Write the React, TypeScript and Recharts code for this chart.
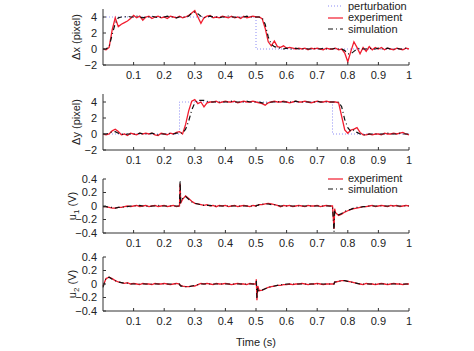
import React from "react";
import { LineChart, Line, XAxis, YAxis, Legend, Label } from "recharts";

const FONT = "'Liberation Sans Narrow', 'Liberation Sans', Arial, sans-serif";
const AXIS = "#333333";
const TEXT = "#222222";
const RED = "#f21c2e";
const BLACK = "#111111";
const BLUE = "#8c8cf5";
const SIM_DASH = "5 3 1 3";
const PERT_DASH = "1 2";

// time grid for the two position panels (s)
const timePos = [
  0, 0.01, 0.02, 0.03, 0.04, 0.05, 0.06, 0.07, 0.08, 0.09,
  0.1, 0.11, 0.12, 0.13, 0.14, 0.15, 0.16, 0.17, 0.18, 0.19,
  0.2, 0.21, 0.22, 0.23, 0.24, 0.25, 0.26, 0.27, 0.28, 0.29,
  0.3, 0.31, 0.32, 0.33, 0.34, 0.35, 0.36, 0.37, 0.38, 0.39,
  0.4, 0.41, 0.42, 0.43, 0.44, 0.45, 0.46, 0.47, 0.48, 0.49,
  0.5, 0.51, 0.52, 0.53, 0.54, 0.55, 0.56, 0.57, 0.58, 0.59,
  0.6, 0.61, 0.62, 0.63, 0.64, 0.65, 0.66, 0.67, 0.68, 0.69,
  0.7, 0.71, 0.72, 0.73, 0.74, 0.75, 0.76, 0.77, 0.78, 0.79,
  0.8, 0.81, 0.82, 0.83, 0.84, 0.85, 0.86, 0.87, 0.88, 0.89,
  0.9, 0.91, 0.92, 0.93, 0.94, 0.95, 0.96, 0.97, 0.98, 0.99, 1,
];

// Δx (pixel)
const dxPerturbation = [
  4, 4, 4, 4, 4, 4, 4, 4, 4, 4,
  4, 4, 4, 4, 4, 4, 4, 4, 4, 4,
  4, 4, 4, 4, 4, 4, 4, 4, 4, 4,
  4, 4, 4, 4, 4, 4, 4, 4, 4, 4,
  4, 4, 4, 4, 4, 4, 4, 4, 4, 4,
  0, 0, 0, 0, 0, 0, 0, 0, 0, 0,
  0, 0, 0, 0, 0, 0, 0, 0, 0, 0,
  0, 0, 0, 0, 0, 0, 0, 0, 0, 0,
  0, 0, 0, 0, 0, 0, 0, 0, 0, 0,
  0, 0, 0, 0, 0, 0, 0, 0, 0, 0, 0,
];
const dxExperiment = [
  0.0, -0.1, 0.2, 2.4, 3.9, 2.8, 3.1, 3.3, 3.5, 3.8,
  4.2, 3.9, 4.1, 3.6, 4.0, 4.1, 3.8, 4.0, 4.1, 3.9,
  4.0, 3.8, 4.1, 4.0, 3.9, 4.1, 3.9, 4.0, 4.2, 4.5,
  4.8, 4.0, 3.2, 3.9, 4.1, 4.2, 3.9, 4.0, 3.9, 4.1,
  4.0, 3.9, 4.1, 3.9, 4.0, 3.8, 4.1, 3.9, 4.0, 4.1,
  4.0, 4.0, 3.8, 2.6, 0.9, 0.4, 1.0, 0.3, 0.2, 0.4,
  0.1, 0.2, 0.1, 0.0, 0.1, 0.0, 0.1, -0.1, 0.1, 0.0,
  0.1, 0.0, -0.1, 0.1, 0.0, 0.0, 0.1, -0.1, 0.0, -0.5,
  -1.6, -0.3, 0.9, 0.2, -0.6, 0.2, -0.3, 0.3, -0.1, 0.2,
  0.0, 0.2, -0.1, 0.1, 0.0, -0.1, 0.1, 0.0, -0.1, 0.1, 0.0,
];
const dxSimulation = [
  0.0, 0.0, 0.3, 1.8, 3.2, 3.9, 4.0, 4.0, 4.1, 4.0,
  4.0, 4.1, 4.0, 3.9, 4.0, 4.0, 4.1, 4.0, 3.9, 4.0,
  4.0, 4.1, 4.0, 4.0, 3.9, 4.0, 4.0, 4.0, 4.1, 4.5,
  4.6, 4.4, 4.1, 3.9, 4.0, 4.1, 4.0, 4.0, 3.9, 4.0,
  4.0, 4.1, 4.0, 4.0, 3.9, 4.0, 4.0, 4.1, 4.0, 4.0,
  4.0, 4.0, 3.9, 3.1, 1.5, 0.6, 0.3, 0.2, 0.1, 0.0,
  0.1, 0.0, 0.0, 0.1, 0.0, 0.0, 0.1, 0.0, 0.0, 0.1,
  0.0, 0.0, 0.1, 0.0, 0.0, 0.0, 0.1, 0.0, 0.0, -0.2,
  -0.6, -0.6, -0.3, 0.0, 0.1, 0.0, 0.0, 0.1, 0.0, 0.0,
  0.1, 0.0, 0.0, 0.1, 0.0, 0.0, 0.1, 0.0, 0.0, 0.1, 0.0,
];

// Δy (pixel)
const dyPerturbation = [
  0, 0, 0, 0, 0, 0, 0, 0, 0, 0,
  0, 0, 0, 0, 0, 0, 0, 0, 0, 0,
  0, 0, 0, 0, 0, 4, 4, 4, 4, 4,
  4, 4, 4, 4, 4, 4, 4, 4, 4, 4,
  4, 4, 4, 4, 4, 4, 4, 4, 4, 4,
  4, 4, 4, 4, 4, 4, 4, 4, 4, 4,
  4, 4, 4, 4, 4, 4, 4, 4, 4, 4,
  4, 4, 4, 4, 4, 0, 0, 0, 0, 0,
  0, 0, 0, 0, 0, 0, 0, 0, 0, 0,
  0, 0, 0, 0, 0, 0, 0, 0, 0, 0, 0,
];
const dyExperiment = [
  0.0, -0.1, 0.0, 0.4, 0.6, 0.3, -0.1, 0.0, -0.2, 0.1,
  0.0, -0.1, 0.1, 0.0, 0.1, 0.0, 0.1, -0.1, -0.2, 0.1,
  0.0, -0.1, 0.1, 0.0, 0.2, 0.3, 0.0, 1.2, 2.9, 4.1,
  4.3, 3.8, 4.0, 3.4, 3.9, 4.0, 4.0, 4.1, 3.9, 4.0,
  4.1, 4.0, 4.0, 4.1, 3.9, 4.0, 4.1, 4.0, 4.0, 4.1,
  4.0, 3.9, 3.8, 3.6, 3.9, 4.0, 4.1, 4.0, 4.0, 4.1,
  4.0, 3.9, 4.0, 4.1, 4.0, 4.0, 4.1, 4.0, 3.9, 4.0,
  4.1, 4.0, 4.0, 4.1, 4.0, 4.0, 4.0, 3.9, 2.2, 0.5,
  0.1, 0.5, 0.6, 0.8, 0.2, -0.1, -0.1, 0.0, -0.1, 0.0,
  0.0, -0.1, 0.1, 0.0, 0.0, 0.1, 0.0, 0.1, 0.2, 0.0, -0.1,
];
const dySimulation = [
  0.0, 0.0, 0.1, 0.3, 0.3, 0.1, 0.0, -0.1, 0.0, 0.0,
  0.0, 0.0, 0.1, 0.0, 0.0, 0.0, 0.1, 0.0, -0.1, 0.0,
  0.0, 0.0, 0.1, 0.0, 0.1, 0.1, 0.1, 0.6, 1.6, 3.0,
  3.9, 4.2, 4.2, 4.2, 4.1, 4.0, 4.0, 4.0, 4.0, 4.0,
  4.0, 4.0, 4.1, 4.0, 4.0, 4.0, 4.0, 4.1, 4.0, 4.0,
  4.0, 4.0, 3.9, 3.8, 3.9, 4.0, 4.0, 4.0, 4.1, 4.0,
  4.0, 4.0, 4.0, 4.1, 4.0, 4.0, 4.0, 4.0, 4.0, 4.0,
  4.1, 4.0, 4.0, 4.0, 4.0, 4.0, 4.0, 4.0, 3.4, 1.8,
  0.8, 0.3, 0.5, 0.2, 0.0, -0.1, -0.1, 0.0, 0.0, 0.0,
  0.0, 0.0, 0.0, 0.1, 0.0, 0.0, 0.0, 0.1, 0.0, 0.0, 0.0,
];

// time grid for the two voltage panels, denser around the spikes (s)
const timeVolt = [
  0, 0.01, 0.02, 0.03, 0.04, 0.05, 0.06, 0.07, 0.08, 0.09,
  0.1, 0.11, 0.12, 0.13, 0.14, 0.15, 0.16, 0.17, 0.18, 0.19,
  0.2, 0.21, 0.22, 0.23, 0.24, 0.25, 0.252, 0.254, 0.26, 0.27, 0.28, 0.29,
  0.3, 0.31, 0.32, 0.33, 0.34, 0.35, 0.36, 0.37, 0.38, 0.39,
  0.4, 0.41, 0.42, 0.43, 0.44, 0.45, 0.46, 0.47, 0.48, 0.49,
  0.5, 0.501, 0.503, 0.506, 0.51, 0.52, 0.53, 0.54, 0.55, 0.56, 0.57, 0.58, 0.59,
  0.6, 0.61, 0.62, 0.63, 0.64, 0.65, 0.66, 0.67, 0.68, 0.69,
  0.7, 0.71, 0.72, 0.73, 0.74, 0.75, 0.755, 0.757, 0.76, 0.77, 0.78, 0.79,
  0.8, 0.81, 0.82, 0.83, 0.84, 0.85, 0.86, 0.87, 0.88, 0.89,
  0.9, 0.91, 0.92, 0.93, 0.94, 0.95, 0.96, 0.97, 0.98, 0.99, 1,
];

// u1 (V)
const u1Experiment = [
  -0.01, -0.01, -0.02, -0.03, -0.03, -0.02, -0.02, -0.01, 0.0, -0.01,
  0.0, 0.01, -0.01, 0.0, 0.01, -0.01, 0.0, 0.01, -0.01, 0.0,
  0.01, -0.01, 0.0, 0.01, -0.01, 0.0, 0.33, 0.04, 0.1, 0.15, 0.11, 0.07,
  0.04, 0.03, 0.02, 0.01, 0.02, 0.0, 0.01, -0.01, 0.01, 0.0,
  0.01, -0.01, 0.0, 0.01, -0.01, 0.0, 0.01, 0.0, -0.01, 0.01,
  0.0, 0.0, 0.01, 0.01, 0.02, 0.02, 0.03, 0.04, 0.03, 0.02, 0.01, -0.01, 0.01,
  0.0, 0.01, -0.01, 0.0, 0.01, 0.0, -0.01, 0.01, 0.0, 0.0,
  0.01, -0.01, 0.0, 0.01, 0.0, 0.0, -0.34, -0.04, -0.1, -0.14, -0.12, -0.09,
  -0.07, -0.05, -0.04, -0.03, -0.02, -0.01, -0.01, 0.0, 0.01, -0.01,
  0.0, 0.01, 0.0, -0.01, 0.01, 0.0, 0.01, -0.01, 0.0, 0.01, 0.0,
];
const u1Simulation = [
  -0.01, -0.01, -0.02, -0.02, -0.03, -0.02, -0.02, -0.01, -0.01, 0.0,
  0.0, 0.0, 0.01, 0.0, 0.0, -0.01, 0.0, 0.0, 0.01, 0.0,
  0.0, 0.0, 0.0, 0.0, 0.0, 0.0, 0.38, 0.06, 0.11, 0.14, 0.1, 0.06,
  0.04, 0.03, 0.02, 0.01, 0.01, 0.01, 0.0, 0.0, 0.0, 0.0,
  0.0, 0.0, 0.0, 0.0, 0.0, 0.0, 0.0, 0.0, 0.0, 0.0,
  0.0, 0.0, 0.01, 0.01, 0.02, 0.03, 0.03, 0.03, 0.02, 0.02, 0.01, 0.0, 0.0,
  0.0, 0.0, 0.0, 0.0, 0.0, 0.0, 0.0, 0.0, 0.0, 0.0,
  0.0, 0.0, 0.0, 0.0, 0.0, 0.0, -0.38, -0.06, -0.11, -0.13, -0.11, -0.08,
  -0.06, -0.05, -0.03, -0.02, -0.02, -0.01, -0.01, 0.0, 0.0, 0.0,
  0.0, 0.0, 0.0, 0.0, 0.0, 0.0, 0.0, 0.0, 0.0, 0.0, 0.0,
];

// u2 (V)
const u2Experiment = [
  -0.03, 0.08, 0.1, 0.08, 0.05, 0.03, 0.02, 0.01, 0.02, 0.0,
  0.01, 0.0, -0.01, 0.01, 0.0, 0.0, -0.01, 0.01, 0.0, 0.0,
  0.01, 0.0, -0.01, 0.0, 0.01, 0.0, -0.02, -0.02, -0.03, -0.04, -0.04, -0.03,
  -0.03, -0.01, 0.01, 0.0, 0.01, 0.0, -0.01, 0.01, 0.0, 0.0,
  0.01, 0.0, -0.01, 0.0, 0.01, 0.0, 0.0, -0.01, 0.01, 0.0,
  0.0, 0.07, -0.24, -0.03, -0.1, -0.09, -0.07, -0.05, -0.04, -0.03, -0.02, -0.02, -0.01,
  -0.01, 0.0, -0.01, 0.0, 0.0, 0.01, 0.0, -0.01, 0.0, 0.0,
  0.01, 0.0, -0.01, 0.0, 0.0, 0.0, 0.0, 0.03, 0.03, 0.04, 0.05, 0.05,
  0.04, 0.03, 0.02, 0.01, 0.0, -0.01, 0.01, 0.0, 0.0, -0.01,
  0.0, 0.01, 0.0, -0.01, 0.0, 0.01, 0.0, 0.0, -0.01, 0.0, 0.0,
];
const u2Simulation = [
  -0.05, 0.09, 0.1, 0.07, 0.05, 0.03, 0.02, 0.01, 0.01, 0.0,
  0.0, 0.0, 0.0, 0.0, 0.0, 0.0, 0.0, 0.0, 0.0, 0.0,
  0.0, 0.0, 0.0, 0.0, 0.0, 0.0, -0.02, -0.03, -0.03, -0.04, -0.04, -0.03,
  -0.02, -0.01, 0.0, 0.0, 0.0, 0.0, 0.0, 0.0, 0.0, 0.0,
  0.0, 0.0, 0.0, 0.0, 0.0, 0.0, 0.0, 0.0, 0.0, 0.0,
  0.0, 0.06, -0.22, -0.05, -0.1, -0.09, -0.07, -0.05, -0.04, -0.03, -0.02, -0.01, -0.01,
  0.0, 0.0, 0.0, 0.0, 0.0, 0.0, 0.0, 0.0, 0.0, 0.0,
  0.0, 0.0, 0.0, 0.0, 0.0, 0.0, 0.0, 0.03, 0.03, 0.04, 0.05, 0.05,
  0.04, 0.03, 0.02, 0.01, 0.0, 0.0, 0.0, 0.0, 0.0, 0.0,
  0.0, 0.0, 0.0, 0.0, 0.0, 0.0, 0.0, 0.0, 0.0, 0.0, 0.0,
];

const timeTicks = [0.1, 0.2, 0.3, 0.4, 0.5, 0.6, 0.7, 0.8, 0.9, 1];
const pixelTicks = [-2, 0, 2, 4];
const voltTicks = [-0.4, -0.2, 0, 0.2, 0.4];

type Row = { t: number; pert?: number; exp: number; sim: number };

function buildRows(time: number[], exp: number[], sim: number[], pert?: number[]): Row[] {
  return time.map((t, i) => ({ t, exp: exp[i], sim: sim[i], pert: pert ? pert[i] : undefined }));
}

function fmtTick(v: number) {
  const s = Number.isInteger(v) ? String(v) : String(+v.toFixed(1));
  return s.replace("-", "\u2212");
}

type Item = { name: string; color: string; dash?: string };

const ITEMS_ALL: Item[] = [
  { name: "perturbation", color: BLUE, dash: PERT_DASH },
  { name: "experiment", color: RED },
  { name: "simulation", color: BLACK, dash: SIM_DASH },
];

function LegendBox({ items, rowH }: { items: Item[]; rowH: number }) {
  return (
    <div style={{ fontFamily: FONT, fontSize: 11, color: TEXT }}>
      {items.map((it) => (
        <div
          key={it.name}
          style={{ display: "flex", alignItems: "center", height: rowH, whiteSpace: "nowrap" }}
        >
          <svg width={15} height={4} style={{ marginRight: 5, overflow: "visible" }}>
            <line x1={0} y1={2} x2={15} y2={2} stroke={it.color} strokeWidth={1.2} strokeDasharray={it.dash} />
          </svg>
          <span style={{ lineHeight: 1 }}>{it.name}</span>
        </div>
      ))}
    </div>
  );
}

function YTitle({ cx, cy, main, sub, unit }: { cx: number; cy: number; main: string; sub?: string; unit: string }) {
  return (
    <text
      x={cx}
      y={cy}
      transform={`rotate(-90, ${cx}, ${cy})`}
      textAnchor="middle"
      dy="0.35em"
      fill={TEXT}
      fontFamily={FONT}
      fontSize={11}
    >
      {main}
      {sub ? (
        <>
          <tspan dy={3} fontSize={8}>{sub}</tspan>
          <tspan dy={-3}>{unit}</tspan>
        </>
      ) : (
        unit
      )}
    </text>
  );
}

type PanelProps = {
  top: number;
  plotH: number;
  xBottom: number;
  data: Row[];
  domain: [number, number];
  ticks: number[];
  withPert: boolean;
  title: { cx: number; main: string; sub?: string; unit: string };
  legend?: { items: Item[]; rowH: number; top: number };
  xTitle?: string;
};

function Panel({ top, plotH, xBottom, data, domain, ticks, withPert, title, legend, xTitle }: PanelProps) {
  const height = 8 + plotH + xBottom;
  const tickStyle = { fill: TEXT, fontSize: 11, fontFamily: FONT };
  return (
    <div style={{ position: "absolute", left: 0, top }}>
      <LineChart width={474} height={height} data={data} margin={{ top: 8, right: 65, bottom: 0, left: 0 }}>
        <XAxis
          dataKey="t"
          type="number"
          domain={[0, 1]}
          ticks={timeTicks}
          tickFormatter={fmtTick}
          interval={0}
          height={xBottom}
          tickSize={-3}
          tickMargin={9}
          stroke={AXIS}
          tick={tickStyle}
        >
          {xTitle ? (
            <Label
              value={xTitle}
              position="insideBottom"
              offset={5}
              style={{ fill: TEXT, fontSize: 11, fontFamily: FONT }}
            />
          ) : null}
        </XAxis>
        <YAxis
          type="number"
          domain={domain}
          ticks={ticks}
          tickFormatter={fmtTick}
          interval={0}
          width={103}
          tickSize={-3}
          tickMargin={9}
          stroke={AXIS}
          tick={tickStyle}
          allowDataOverflow
          label={<YTitle cx={title.cx} cy={8 + plotH / 2} main={title.main} sub={title.sub} unit={title.unit} />}
        />
        {legend ? (
          <Legend
            layout="vertical"
            align="center"
            verticalAlign="middle"
            wrapperStyle={{ top: legend.top, left: 328, width: 130 }}
            content={() => <LegendBox items={legend.items} rowH={legend.rowH} />}
          />
        ) : null}
        {withPert ? (
          <Line
            dataKey="pert"
            name="perturbation"
            type="stepAfter"
            stroke={BLUE}
            strokeWidth={1}
            strokeDasharray={PERT_DASH}
            dot={false}
            isAnimationActive={false}
          />
        ) : null}
        <Line
          dataKey="exp"
          name="experiment"
          type="linear"
          stroke={RED}
          strokeWidth={1.3}
          dot={false}
          isAnimationActive={false}
        />
        <Line
          dataKey="sim"
          name="simulation"
          type="linear"
          stroke={BLACK}
          strokeWidth={1.2}
          strokeDasharray={SIM_DASH}
          dot={false}
          isAnimationActive={false}
        />
      </LineChart>
    </div>
  );
}

export default function App() {
  const dxRows = buildRows(timePos, dxExperiment, dxSimulation, dxPerturbation);
  const dyRows = buildRows(timePos, dyExperiment, dySimulation, dyPerturbation);
  const u1Rows = buildRows(timeVolt, u1Experiment, u1Simulation);
  const u2Rows = buildRows(timeVolt, u2Experiment, u2Simulation);

  return (
    <div
      style={{
        position: "absolute",
        left: 0,
        top: 0,
        width: 474,
        height: 351,
        background: "#ffffff",
        overflow: "hidden",
      }}
    >
      <Panel
        top={1}
        plotH={56}
        xBottom={20}
        data={dxRows}
        domain={[-2, 5]}
        ticks={pixelTicks}
        withPert
        title={{ cx: 76, main: "\u0394x", unit: " (pixel)" }}
        legend={{ items: ITEMS_ALL, rowH: 11.5, top: -0.5 }}
      />
      <Panel
        top={86}
        plotH={56}
        xBottom={20}
        data={dyRows}
        domain={[-2, 5]}
        ticks={pixelTicks}
        withPert
        title={{ cx: 76, main: "\u0394y", unit: " (pixel)" }}
      />
      <Panel
        top={171}
        plotH={54}
        xBottom={20}
        data={u1Rows}
        domain={[-0.4, 0.4]}
        ticks={voltTicks}
        withPert={false}
        title={{ cx: 72, main: "u", sub: "1", unit: " (V)" }}
        legend={{ items: ITEMS_ALL.slice(1), rowH: 10.5, top: 2.5 }}
      />
      <Panel
        top={249}
        plotH={54}
        xBottom={40}
        data={u2Rows}
        domain={[-0.4, 0.4]}
        ticks={voltTicks}
        withPert={false}
        title={{ cx: 72, main: "u", sub: "2", unit: " (V)" }}
        xTitle="Time (s)"
      />
    </div>
  );
}
